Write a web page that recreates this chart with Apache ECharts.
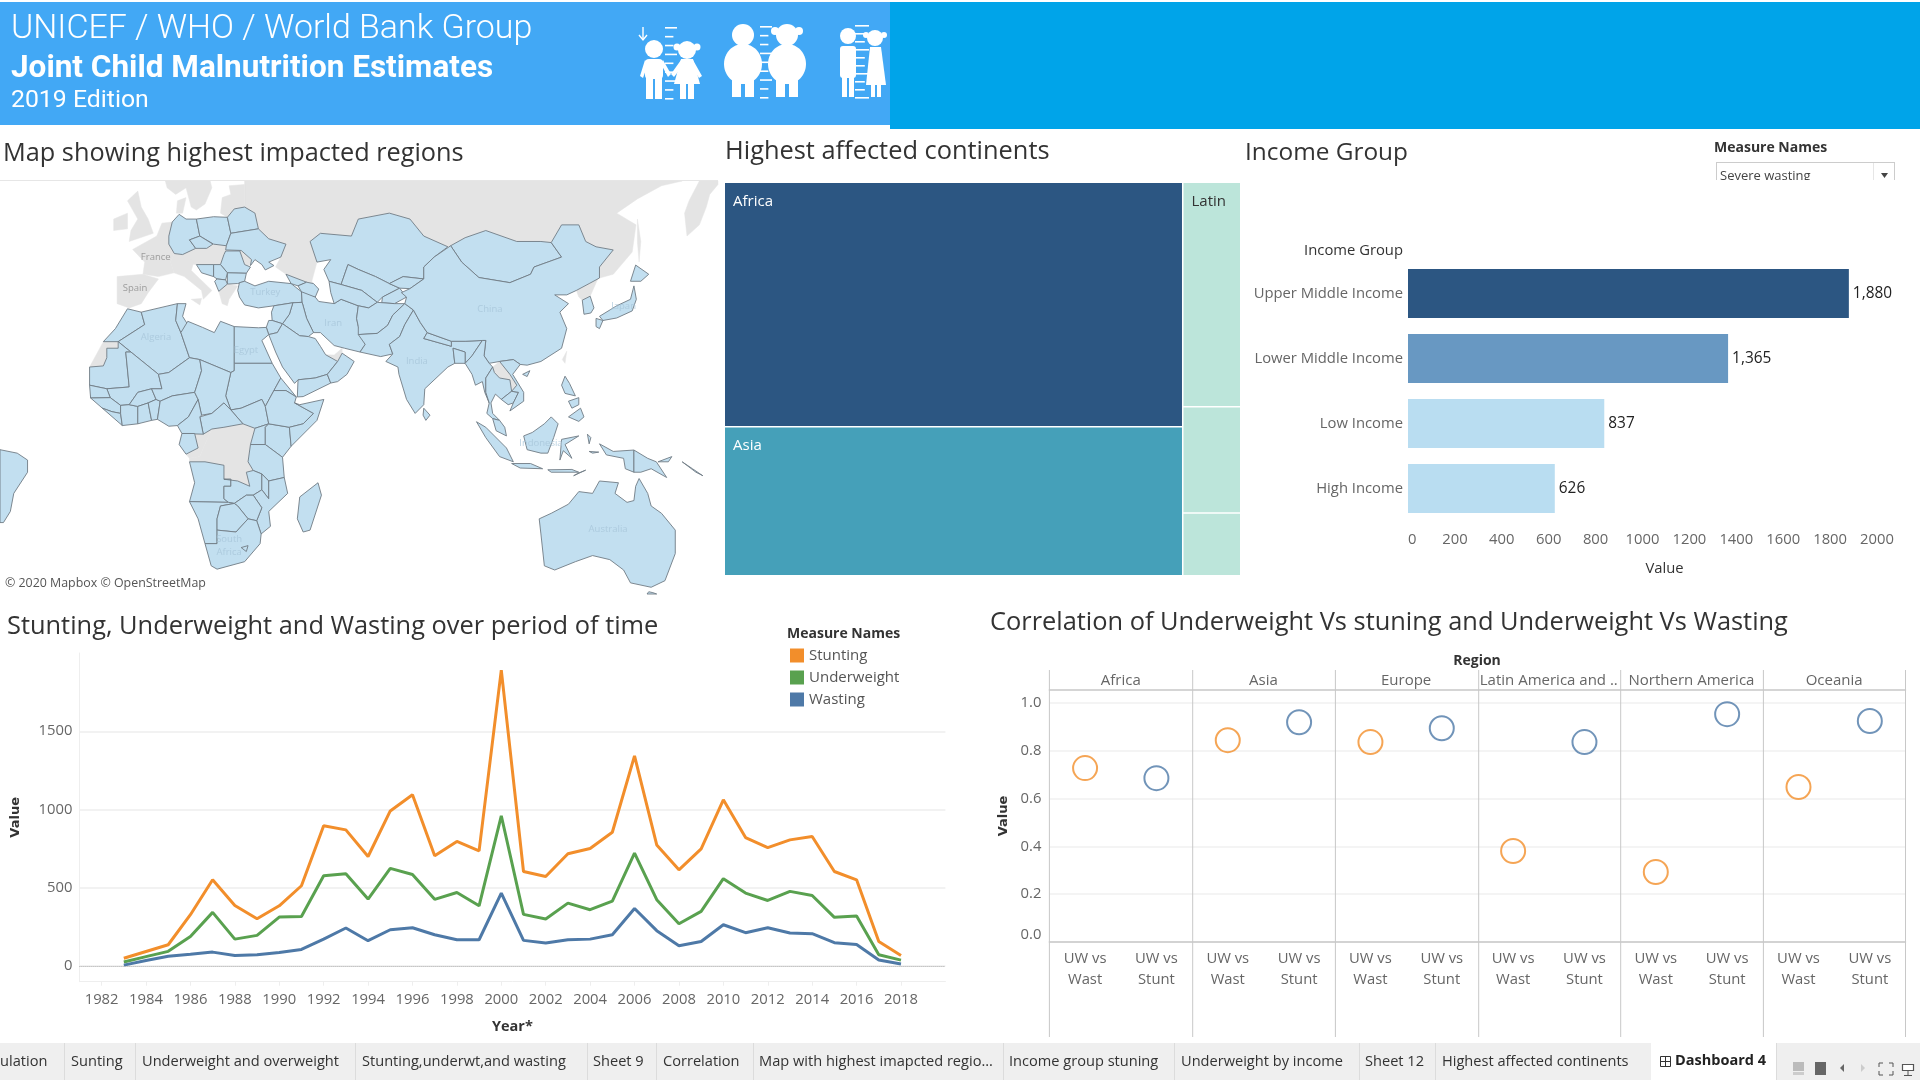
<!DOCTYPE html>
<html><head><meta charset="utf-8">
<script src="https://cdn.jsdelivr.net/npm/echarts@6/dist/echarts.min.js"></script>
<style>html,body{margin:0;padding:0;background:#fff}#c{width:1920px;height:1080px}</style>
</head><body><div id="c"></div>
<script>
// ---------- DATA ----------
const continents = ['Africa','Asia','Latin','Oceania','Europe'];
const continentValues = [111, 67.6, 12.9, 6.1, 3.6];

const incomeGroups = ['Upper Middle Income','Lower Middle Income','Low Income','High Income'];
const incomeValues = [1880,1365,837,626];

const years = [1983,1984,1985,1986,1987,1988,1989,1990,1991,1992,1993,1994,1995,1996,1997,1998,1999,2000,2001,2002,2003,2004,2005,2006,2007,2008,2009,2010,2011,2012,2013,2014,2015,2016,2017,2018];
const stunting = [50,93,136,328,551,387,302,385,513,896,870,700,991,1094,704,796,736,1891,604,572,717,751,855,1343,774,615,749,1062,821,757,806,828,604,551,157,68];
const underweight = [26,60,94,189,343,172,196,313,317,577,590,428,624,585,426,470,385,960,330,300,402,360,415,722,424,270,349,558,466,419,477,451,311,319,72,38];
const wasting = [6,36,62,75,89,68,72,87,106,172,243,162,232,245,200,168,168,466,164,147,168,172,200,368,226,130,157,264,213,245,211,207,149,138,38,13];
const yearTicks = [1982,1984,1986,1988,1990,1992,1994,1996,1998,2000,2002,2004,2006,2008,2010,2012,2014,2016,2018];
const lineValueTicks = [0,500,1000,1500];

const regions = ['Africa','Asia','Europe','Latin America and ..','Northern America','Oceania'];
const pairLabels = ['UW vs\nWast','UW vs\nStunt'];
const uwVsWast  = [0.728,0.845,0.837,0.381,0.293,0.649];
const uwVsStunt = [0.686,0.920,0.895,0.837,0.954,0.925];
const corrTicks = [0,0.2,0.4,0.6,0.8,1.0];

const tabLabels = ['ulation','Sunting','Underweight and overweight','Stunting,underwt,and wasting','Sheet 9','Correlation','Map with highest imapcted regio...','Income group stuning','Underweight by income','Sheet 12','Highest affected continents'];

// Map polygons, as [longitude, latitude] rings
const mapIncluded = {
 Germany:[[6,51],[7,53.5],[9,54.8],[11,54],[14,54],[15,51],[12,50.3],[13.8,48.7],[10,47.5],[7.6,47.7],[6,49.5]],
 Poland:[[14,54],[19,54.4],[23,54.3],[24,51.5],[22.7,49.2],[19,49.5],[15,51]],
 Czechia:[[12,50.3],[15,51],[18.8,49.5],[17,48.7],[13.8,48.7]],
 Belarus:[[23,54.3],[25,55.7],[28,56],[31,55],[32,52.3],[24,51.5]],
 Ukraine:[[24,51.5],[32,52.3],[35,50.5],[40,49.5],[38.5,47],[35,46],[36.5,45.3],[34,44.4],[33,45.5],[31,46.5],[29.7,45.3],[30,46.5],[27,48.3],[22.5,48.4],[22.7,49.2]],
 Romania:[[22,47.5],[22.5,48.2],[26.6,48.2],[28,45.5],[29.7,45],[28.5,43.7],[23,43.8],[21,45.5]],
 Bulgaria:[[23,43.8],[28.5,43.7],[28,42],[26,41.5],[23,41.4]],
 Croatia:[[14,45.5],[19,45.5],[19,43],[15.5,43.8]],
 Serbia:[[19,45.5],[21,45.5],[23,43.8],[22.5,42.3],[20,42.5],[19,43]],
 Albania:[[19.3,42],[20,42.5],[22.5,42.3],[23,41.4],[20.5,39.8]],
 Turkey:[[26,40],[26.5,41.7],[28,42],[31,41],[35,42],[41.5,41.5],[44.5,39.7],[44.7,37.3],[42,37.2],[36.5,36.5],[32,36],[28,36.7],[26.5,38.5]],
 Georgia:[[40,43.5],[46,41.8],[43.5,41],[41.5,41.5]],
 Azerbaijan:[[43.5,41],[46,41.8],[48,41.5],[49.5,40.3],[48.5,38.5],[46,38.8],[44.5,39.7]],
 Iran:[[44.5,39.7],[48.5,38.5],[49.5,37.5],[54,37],[56,38],[61,36.5],[60.5,33.5],[61,31.5],[63,27],[61.5,25],[57,26],[54,26.7],[50,30],[48,30],[46,33.5],[44.7,37.3]],
 Iraq:[[42,37.2],[44.7,37.3],[46,33.5],[48,30],[46.5,29],[44,29.2],[39,32.2],[41,34.5]],
 Syria:[[36.5,36.5],[42,37.2],[41,34.5],[39,32.2],[36,33],[35.8,35]],
 Jordan:[[36,33],[39,32.2],[37.5,30],[35,29.5],[34.3,31.3],[35,33]],
 Saudi:[[35,29.5],[37.5,30],[39,32.2],[44,29.2],[46.5,29],[48.5,28.5],[50,26.5],[51.5,24.3],[55,22.5],[52,19],[48.5,18],[43.5,17.5],[42.5,16.5],[39,21],[37,25]],
 Yemen:[[43.5,17.5],[48.5,18],[52,19],[53,16.6],[45,12.8],[43.3,12.7]],
 Oman:[[55,22.5],[56.3,24.7],[59.8,22.5],[57.7,19],[55,17],[53,16.6],[52,19]],
 Kazakhstan:[[47,50],[50,51.5],[59,51],[61,54],[70,55],[76,54],[80,51],[87,49],[83,47],[80,45],[80,42.5],[74,43],[70,41.5],[66,43],[61,44.5],[58,45.5],[56,41.3],[52.5,42],[51,44.5],[53,46.5],[49,46]],
 Uzbekistan:[[56,41.3],[58,45.5],[61,44.5],[66,43],[70,41.5],[73,40.5],[68,38.5],[66.5,37.3],[62,40]],
 Turkmenistan:[[52.5,42],[56,41.3],[62,40],[66.5,37.3],[64,36],[61,36.5],[56,38],[54,37],[53,39.5]],
 Kyrgyzstan:[[70,41.5],[74,43],[80,42.5],[76,40.4],[73,40.5]],
 Tajikistan:[[68,38.5],[73,40.5],[75,38.5],[71.5,37],[67.8,37.2]],
 Afghanistan:[[61,36.5],[64,36],[66.5,37.3],[71.5,37],[74.5,37],[71,34.3],[69.5,31.8],[66.5,29.8],[61,29.5],[61,31.5],[60.5,33.5]],
 Pakistan:[[61,29.5],[66.5,29.8],[69.5,31.8],[71,34.3],[74.5,37],[77,35.5],[74.5,32],[73,29],[70,27],[71,24.5],[67.5,23.8],[61.5,25],[63,27]],
 India:[[74.5,32],[77,35.5],[79,32.5],[81,30],[80,28.5],[88,26.5],[88,27.8],[92,27.8],[97,28],[94,24],[92,22],[92,25],[88.5,26],[89,22],[87,21],[80.3,15],[80,10.5],[77.5,8],[75,12],[72.8,19],[72.5,21],[69,22.5],[71,24.5],[70,27],[73,29]],
 Nepal:[[81,30],[88,27.8],[88,26.5],[80,28.5]],
 Bangladesh:[[88.5,26],[92,25],[92,22],[89,22]],
 SriLanka:[[80,9.5],[81.8,7.5],[80.6,6],[79.8,7.5]],
 Mongolia:[[87.8,49.2],[92,50.7],[98,52],[107,50],[114,50],[117,49.8],[120,47],[112,45],[111,43.5],[105,41.7],[96,42.8],[91,46]],
 China:[[80,42.5],[80,45],[83,47],[87.8,49.2],[91,46],[96,42.8],[105,41.7],[111,43.5],[112,45],[120,47],[117,49.8],[120,53],[125,53],[127,50],[130,49],[135,48.4],[131,45],[131,42.7],[128,41.5],[124.3,40],[121.5,39],[118,39],[122,37],[119.5,35],[121.5,31],[120,26],[114,22.5],[110,21.5],[108,21.7],[106,23],[102,22.5],[99,22],[97.5,24],[98,28],[97,28],[92,27.8],[88,27.8],[81,30],[79,32.5],[77,35.5],[74.5,37],[75,38.5],[73.5,39.5],[76,40.4]],
 Hainan:[[108.7,19],[110.8,20],[110,18.4]],
 SouthKorea:[[126,37.8],[128.3,38.7],[129.4,36],[128.5,34.8],[126.5,34.5]],
 Honshu:[[131,34],[136,36.5],[140,38],[141,41],[141.7,38],[140.5,35.3],[136,33.6],[132,33]],
 Hokkaido:[[140,42],[141.5,45.4],[145.3,43.5],[143,42]],
 Kyushu:[[130,33.5],[132,33],[131,31],[130,31.5]],
 Myanmar:[[92,22],[94,24],[97,28],[98,28],[97.5,24],[99,22],[100,21],[98,18],[98,14],[99,11],[97.7,14],[97,17],[95,16],[94,19]],
 Thailand:[[100,21],[100.5,19.5],[102,18],[105,17.5],[105.5,14.3],[102.5,12],[100.8,13.5],[99.5,11],[100,8],[102,6],[100,6.5],[98.3,8],[99,11],[98,14],[98,18]],
 Cambodia:[[102.5,12],[105.5,14.3],[107.5,14],[106,11],[104.5,10.5]],
 Vietnam:[[102,22.5],[106,23],[108,21.7],[105.8,19],[109,14],[109,11.5],[105,8.7],[106,11],[107.5,14],[105.5,14.3],[107,16],[105,19]],
 Malaysia:[[100,6.5],[102,6],[103.5,4],[104,1.5],[101,3]],
 Sumatra:[[95.3,5.6],[98,4],[104,-2],[106,-6],[102,-4.5],[98,1]],
 Java:[[105.5,-6.5],[111,-6.5],[114.5,-8],[108,-7.8]],
 Borneo:[[109,1.5],[111.5,2.5],[115,5],[117,7],[119,5],[117.7,1],[116,-3.5],[114,-3.5],[110,-2.5]],
 Sulawesi:[[119.5,-5.5],[120,0.5],[125,1.5],[121,-1],[123,-5],[120.5,-2.8]],
 Papua:[[131,-0.8],[135,-3],[141,-2.6],[141,-9],[138.5,-8],[138,-5],[133,-4]],
 PNG:[[141,-2.6],[145,-5],[147.5,-6],[150.5,-10.5],[146,-8],[143,-9],[141,-9]],
 NewBritain:[[148,-6],[152,-4.5],[151,-6]],
 Luzon:[[120,16],[121,18.5],[122.3,16.5],[124,13],[121,13.7]],
 Mindanao:[[122,7],[125.5,9.5],[126.5,7],[125,5.7]],
 Visayas:[[122,11.5],[125,12.5],[125,10.5],[123,9.5]],
 Halmahera:[[127.5,2],[128.5,1],[128,-0.8]],
 Sunda:[[116,-8.3],[123,-8.2],[125,-9],[117,-9]],
 Timor:[[123.5,-10],[127,-8.4],[125,-9.2]],
 Seram:[[128,-3],[130.8,-3.2],[129,-3.5]],
 Solomon:[[155,-6],[158,-8],[161,-10],[159,-9]],
 Australia:[[113.5,-22],[114,-26],[115,-34],[118,-35],[124,-33],[129,-31.5],[134,-32.5],[138,-35],[140,-38],[146,-39],[150,-37.5],[153,-31],[153,-25],[149,-20.5],[146,-18.5],[145,-15],[142.5,-10.8],[141.5,-13],[141,-17],[139,-17.5],[135.5,-15],[136.5,-12],[131,-11.5],[129,-15],[125,-14.5],[122,-18],[117,-20.5]],
 Tasmania:[[144.8,-40.5],[145.3,-40],[146.5,-40.2],[147.6,-40.5]],
 Brazil:[[-43,-2.5],[-38,-3.5],[-35,-5.5],[-35,-9],[-39,-15],[-40,-20],[-42,-23],[-43,-23]],
 Morocco:[[-13,27.7],[-9.5,31],[-6,35.8],[-2,35],[-1,32],[-8.7,27.7]],
 Algeria:[[-8.7,27.7],[-1,32],[-2,35],[8.5,37],[8,33],[9.5,30],[12,23.5],[6,19.5],[3,19],[-5,25]],
 Tunisia:[[8.5,37],[11,37],[10,34],[11.5,32],[9.5,30],[8,33]],
 Libya:[[9.5,30],[11.5,32.8],[15.8,31.3],[19.2,30],[21,32.8],[25,31.5],[25,20],[24,19.5],[15,23],[12,23.5]],
 Egypt:[[25,31.5],[32,31.2],[34.3,31.3],[35,29.5],[33,28],[36,22],[25,22]],
 Sudan:[[25,22],[36,22],[38.5,18],[36.5,14.5],[34,10],[33,12],[27,9.5],[24,9],[22.5,13],[24,19.5],[25,20]],
 SouthSudan:[[24,9],[27,9.5],[33,12],[34,10],[35,5],[31,3.7],[27.5,5]],
 Mauritania:[[-17,16],[-17,21],[-13,21.3],[-12,23.5],[-12,26],[-8.7,26],[-8.7,27.7],[-5,25],[-6.5,25],[-5.5,15.5],[-12,15]],
 Mali:[[-12,15],[-5.5,15.5],[-6.5,25],[-5,25],[3,19],[4,15],[1,15],[-3,14],[-5.5,10.5],[-8,10.3],[-11,12.5]],
 Senegal:[[-17,16],[-12,15],[-11,12.5],[-16.7,12.4]],
 Guinea:[[-16.7,12.4],[-11,12.5],[-8,10.3],[-8,8],[-10.5,8.5],[-13.3,9.5]],
 Liberia:[[-13.3,9.5],[-10.5,8.5],[-8,8],[-7.5,4.5]],
 IvoryCoast:[[-8,10.3],[-5.5,10.5],[-3,10],[-3,5],[-7.5,4.5],[-8,8]],
 Burkina:[[-5.5,10.5],[-3,14],[1,15],[2.3,12],[0,11],[-3,10]],
 Ghana:[[-3,10],[0,11],[1,6],[-3,5]],
 Benin:[[0,11],[2.3,12],[3.5,11.5],[2.7,6.3],[1,6]],
 Niger:[[2.3,12],[1,15],[4,15],[3,19],[6,19.5],[12,23.5],[15,23],[15.5,20],[13.5,14],[7,13],[3.5,11.5]],
 Nigeria:[[2.7,6.3],[3.5,11.5],[7,13],[13.5,14],[14.5,12],[11.7,7],[8.5,4.5],[6,4.3]],
 Chad:[[15,23],[24,19.5],[22.5,13],[24,9],[22,11],[18.5,8],[15.5,7.5],[14.5,12],[13.5,14],[15.5,20]],
 CAR:[[15,7],[18.5,8],[22,11],[24,9],[27.5,5],[22,4],[18.5,3.5],[16,2]],
 Cameroon:[[8.5,4.5],[11.7,7],[14.5,12],[15.5,7.5],[15,7],[16,2],[9.8,2.2]],
 Gabon:[[9.8,2.2],[13.5,2.2],[14.5,-2],[11,-3.8],[9,-1]],
 Uganda:[[31,3.7],[35,5],[34,4],[34,-1],[29.7,-1]],
 Kenya:[[35,5],[41,4],[41.5,-1.5],[39,-4.7],[34,-1],[34,4]],
 Eritrea:[[36.5,14.5],[38.5,18],[43,12.7],[40,14.5]],
 Ethiopia:[[34,10],[36.5,14.5],[40,14.5],[43,12.7],[42.5,11],[48,8],[45,5],[41,4],[35,5]],
 Somalia:[[42.5,11],[44,10.5],[51,12],[49,6],[41.5,-1.5],[41,4],[45,5],[48,8]],
 Tanzania:[[29.7,-1],[34,-1],[39,-4.7],[39.5,-10.5],[35,-11.5],[33,-9.5],[30.5,-8.5],[29,-6]],
 Angola:[[12,-6],[16.5,-6],[22,-7],[22,-11],[24,-11],[24,-13],[22,-13],[22,-16.5],[23.3,-17.5],[12,-17.3],[13.5,-12]],
 Zambia:[[22,-11],[26,-11.5],[29.5,-13],[28.5,-9],[30.5,-8.5],[33,-9.5],[33,-14],[30.5,-15.5],[28.5,-15.5],[25,-17.8],[23.3,-17.5],[22,-16.5],[22,-13],[24,-13],[24,-11]],
 Malawi:[[33,-9.5],[35,-11.5],[35,-16.5],[33,-14]],
 Mozambique:[[35,-11.5],[39.5,-10.5],[40.5,-15],[35,-20],[35.5,-24],[32.8,-26],[31.5,-22.5],[33,-19],[30.5,-15.5],[33,-14],[35,-16.5]],
 Zimbabwe:[[25,-17.8],[28.5,-15.5],[30.5,-15.5],[33,-19],[31.5,-22.5],[29,-22],[26,-18.5]],
 Namibia:[[12,-17.3],[23.3,-17.5],[25,-17.8],[21,-18.5],[20,-22],[20,-28.5],[16.5,-28.5],[14.5,-22]],
 Botswana:[[21,-18.5],[25,-17.8],[26,-18.5],[29,-22],[25.5,-25.5],[20,-25],[20,-22]],
 SouthAfrica:[[16.5,-28.5],[20,-28.5],[20,-25],[25.5,-25.5],[29,-22],[31.5,-22.5],[32.8,-26],[32.5,-28.5],[28,-33],[20,-34.8],[18.3,-34]],
 Lesotho:[[27,-29.5],[29,-29],[28.5,-30.5]],
 Madagascar:[[44,-16],[49.3,-12],[50.3,-15.5],[47,-25],[45,-25.5],[43.3,-22]]
};
const mapExcluded = {
 Russia:[[28,60],[155,60],[149,59.3],[142,57.3],[136,55],[141.6,53],[140.5,48],[135,43.5],[131,42.7],[131,45],[135,48.4],[130,49],[127,50],[125,53],[120,53],[117,49.8],[114,50],[107,50],[98,52],[92,50.7],[87.8,49.2],[87,49],[80,51],[76,54],[70,55],[61,54],[59,51],[50,51.5],[47,50],[49,46],[47.5,42],[48,41.5],[46,41.8],[40,43.5],[37,45],[38.5,47],[40,49.5],[35,50.5],[32,52.3],[31,55],[28,56]],
 Kamchatka:[[156.4,51],[155.7,55],[157,57],[160,60],[165.4,60],[165.4,59.5],[163,58],[162,56],[160,53]],
 Sakhalin:[[142,54],[143,50],[142.5,46],[142,50]],
 France:[[-4.5,48.5],[2.5,51],[8,49],[7.6,47.7],[6.5,46],[7.5,43.8],[3,43],[-1.5,43.5],[-1,46]],
 Spain:[[-9,43],[-1.5,43.5],[3,42.5],[0,39.5],[-2,37],[-5.5,36],[-9,37]],
 Britain:[[-5.5,50],[1.5,51.5],[0,54],[-2,56],[-3,58.5],[-6,57],[-3,54],[-5,52]],
 Ireland:[[-10,52],[-6,52.3],[-6,55],[-10,54]],
 Benelux:[[2.5,51],[4,53.3],[7,53.5],[6,51],[6,49.5],[4,49.8]],
 Denmark:[[8.2,55],[8.5,57],[11,57.5],[10,55]],
 Scandinavia:[[5,60],[18,60],[18.5,59],[16.5,56.5],[14,55.5],[12.5,56],[11,59],[8,58],[5.5,59]],
 Baltics:[[21,55],[21.5,57.5],[24,58],[23.5,59.3],[28,59.5],[28,56],[25,55.7],[23,54.3]],
 Alps:[[6.5,46],[7.6,47.7],[10,47.5],[13.8,48.7],[17,48.7],[18.8,49.5],[22.7,49.2],[22.5,48.2],[22,47.5],[21,45.5],[19,45.5],[14,45.5]],
 Moldova:[[26.6,48.2],[27,48.3],[30,46.5],[29.7,45.3],[28,45.5]],
 Italy:[[7.5,43.8],[6.5,46],[13.5,46.5],[12.5,44.3],[18.5,40],[16,38],[15.5,40],[10.5,43]],
 Sicily:[[12.5,38],[15.5,38.2],[15,36.7]],
 Greece:[[20.5,39.8],[23,41.4],[26,41],[23.5,38],[23,36.5],[21.5,37]],
 NorthKorea:[[124.3,40],[128,41.5],[130.5,42.5],[128.3,38.7],[126,37.8],[125,38.5]],
 Taiwan:[[120.2,23],[121.5,25.2],[121,22]],
 Laos:[[100,21],[102,22.5],[105,19],[107,16],[105.5,14.3],[105,17.5],[102,18],[100.5,19.5]],
 UAE:[[51.5,24.3],[54,24.2],[56.3,26],[56.3,24.7],[55,22.5]],
 WesternSahara:[[-17,21],[-13,27.7],[-8.7,27.7],[-8.7,26],[-12,26],[-12,23.5],[-13,21.3]],
 Congo:[[13.5,2.2],[16,2],[18.5,3.5],[16,-2],[15,-4.5],[12,-5],[11,-3.8],[14.5,-2]],
 DRCongo:[[18.5,3.5],[22,4],[27.5,5],[31,3.7],[29.7,-1],[29,-6],[30.5,-8.5],[28.5,-9],[29.5,-13],[26,-11.5],[22,-11],[22,-7],[16.5,-6],[12,-6],[12,-5],[15,-4.5],[16,-2]]
};
const mapFrame = [[-43,60],[165.4,60],[165.4,-40.5],[-43,-40.5]];
const mapLabels = [['France',2.2,46.9],['Spain',-3.8,40.5],['Turkey',34,39.6],['Iran',53.7,32.3],['China',99.2,35.6],['India',78,22.6],['Japan',138,36.4],['Algeria',2.3,28.8],['Egypt',28.4,25.5],['Indonesia',114,-0.6],['Australia',133.5,-24.7],['South',23.5,-27.5],['Africa',23.5,-30.8]];

// ---------- FONTS / COLOURS ----------
const F = '"Open Sans", sans-serif';
const ORANGE='#F28E2B', GREEN='#59A14F', BLUE='#4E79A7';
const AX='#666', GRID='#eeeeee';
const treeColors=['#2C5682','#45A0B9','#BCE5DA','#BCE5DA','#BCE5DA'];
const barColors=['#2C5682','#6898C2','#B9DDF1','#B9DDF1'];

// ---------- MAP ----------
const ring=r=>[[...r,r[0]]];
const feature=(name,r)=>({type:'Feature',properties:{name},geometry:{type:'Polygon',coordinates:ring(r)}});
const features=[feature('frame',mapFrame)];
Object.keys(mapExcluded).forEach(k=>features.push(feature(k,mapExcluded[k])));
Object.keys(mapIncluded).forEach(k=>features.push(feature(k,mapIncluded[k])));
echarts.registerMap('dash',{type:'FeatureCollection',features});
const D=Math.PI/180;
const geoRegions=[{name:'frame',itemStyle:{areaColor:'rgba(0,0,0,0)',borderWidth:0,opacity:0}}].concat(
  Object.keys(mapExcluded).map(name=>({name,itemStyle:{areaColor:'#E4E4E4',borderColor:'#E4E4E4',borderWidth:0.5}})));

// ---------- DECORATION ----------
const g=[];
const T=(text,x,y,size,o={})=>g.push({type:'text',x,y,silent:true,z:o.z||50,style:{text,fontSize:size,fontFamily:o.f||F,fontWeight:o.w||'normal',fill:o.c||'#333',textAlign:o.a||'left',textVerticalAlign:'middle'}});
const R=(x,y,w,h,c,z=1,o={})=>g.push({type:'rect',silent:true,z,shape:{x,y,width:w,height:h,r:o.r||0},style:{fill:c,stroke:o.s||null,lineWidth:o.lw||0}});
const C=(cx,cy,r,c='#fff',z=5)=>g.push({type:'circle',silent:true,z,shape:{cx,cy,r},style:{fill:c}});
const E=(cx,cy,rx,ry,c='#fff',z=5)=>g.push({type:'ellipse',silent:true,z,shape:{cx,cy,rx,ry},style:{fill:c}});
const P=(pts,c='#fff',z=5)=>g.push({type:'polygon',silent:true,z,shape:{points:pts},style:{fill:c}});
const L=(x1,y1,x2,y2,c,z=3,lw=1)=>g.push({type:'line',silent:true,z,shape:{x1,y1,x2,y2},style:{stroke:c,lineWidth:lw}});

R(0,2,890,123,'#42A8F5');
R(890,2,1030,127,'#00A4E9',8);
T('UNICEF / WHO / World Bank Group',11,30,33.9,{f:'Roboto, sans-serif',w:300,c:'#fff'});
T('Joint Child Malnutrition Estimates',11,69,31.5,{f:'Roboto, sans-serif',w:700,c:'#fff'});
T('2019 Edition',11,101,24.8,{f:'Roboto, sans-serif',c:'#fff'});

function ladder(x,w,y0,y1,n){for(let i=0;i<n;i++){const y=y0+(y1-y0)*i/(n-1);R(x,y,i%3==0?w:w*0.7,1.6,'#fff',4);}}
// short children
ladder(665,12,27,98,9);
g.push({type:'polyline',silent:true,z:5,shape:{points:[[643,27],[643,40]]},style:{stroke:'#fff',lineWidth:1.4,fill:null}});
g.push({type:'polyline',silent:true,z:5,shape:{points:[[639,35],[643,40],[647,35]]},style:{stroke:'#fff',lineWidth:1.4,fill:null}});
C(654,49,9);R(645,59,18,20,'#fff',5,{r:4});R(646,78,7,21,'#fff',5);R(655,78,7,21,'#fff',5);
P([[645,60],[640,76],[643,78],[648,64]]);P([[663,60],[671,74],[668,77],[661,64]]);
C(687,50,9);C(677,47,3.5);C(697,47,3.5);P([[681,59],[693,59],[700,84],[674,84]]);R(680,83,6,16,'#fff',5);R(688,83,6,16,'#fff',5);
P([[681,60],[671,74],[674,77],[684,64]]);P([[693,60],[702,76],[699,78],[690,64]]);
// overweight children
ladder(760,12,26,97,9);
C(743,35,11);E(743,64,19,20);R(732,78,9,19,'#fff',5);R(745,78,9,19,'#fff',5);
C(787,35,11);C(775,31,4);C(799,31,4);E(787,64,19,20);R(776,78,9,19,'#fff',5);R(789,78,9,19,'#fff',5);
// tall children
ladder(855,14,25,97,10);
C(848,36,8);R(840,46,16,32,'#fff',5,{r:3});R(842,75,5,22,'#fff',5);R(849,75,5,22,'#fff',5);
C(875,38,8);C(866,35,3);C(884,35,3);P([[870,47],[881,47],[886,85],[866,85]]);R(871,84,4,13,'#fff',5);R(877,84,4,13,'#fff',5);

T('Map showing highest impacted regions',3,153.5,25.3);
T('Highest affected continents',725,151.5,25.4);
T('Income Group',1245,153,24.4);
T('Stunting, Underweight and Wasting over period of time',7,627,25.4);
T('Correlation of Underweight Vs stuning and Underweight Vs Wasting',990,623,25.4);
L(0,180.5,718,180.5,'#e6e6e6');
T('\u00A9 2020 Mapbox \u00A9 OpenStreetMap',5,583,12.4,{c:'#555',z:60});

// dropdown filter
T('Measure Names',1714,148,14,{w:700,c:'#333'});
T('Severe wasting',1720,176,13,{c:'#444',z:50});
R(1700,180,220,8,'#fff',55);
L(1716.5,163,1716.5,180,'#ccc',60);L(1716,162.5,1895,162.5,'#ccc',60);L(1894.5,163,1894.5,180,'#ccc',60);
L(1873.5,163,1873.5,180,'#e6e6e6',60);
P([[1881,173],[1888,173],[1884.5,178]],'#444',60);
T('Income Group',1403,251,14.8,{a:'right',c:'#333'});

// legend header
T('Measure Names',787,634,14,{w:700,c:'#333'});

// correlation facet frame
const facet=[1049.4,1192.7,1335.4,1478.7,1620.7,1763.4,1905.5];
facet.forEach(x=>L(x,670,x,1037,'#c8c8c8'));
T('Region',1477,661,14,{a:'center',w:700,c:'#333'});

// tab bar
R(0,1043,1920,37,'#EFEFEF',1);
const tabEdges=[64,135,355,587,656,753,1003,1174,1359,1435,1651,1776];
tabEdges.forEach(x=>L(x+.5,1043,x+.5,1080,'#dcdcdc',2));
R(1651,1043,125,37,'#fff',2);
const tabText=[0,71,142,362,593,663,759,1009,1181,1365,1442];
tabLabels.forEach((t,i)=>T(t,tabText[i],1062,14.6,{c:'#333'}));
T('Dashboard 4',1675,1061,14.5,{w:700,c:'#222'});
R(1660.5,1056.5,10,10,'#fff',5,{s:'#333',lw:1});L(1660,1061.5,1671,1061.5,'#333',6);L(1665.5,1056,1665.5,1067,'#333',6);
R(1793,1062,11,9,'#bbb',5);R(1793,1072,11,3,'#ccc',5);R(1815,1062,11,13,'#666',5);
P([[1844,1064],[1844,1072],[1840,1068]],'#666');P([[1861,1064],[1861,1072],[1865,1068]],'#ccc');
[[1879,1063,1883,1063],[1879,1063,1879,1067],[1889,1063,1893,1063],[1893,1063,1893,1067],[1879,1075,1883,1075],[1879,1071,1879,1075],[1889,1075,1893,1075],[1893,1071,1893,1075]].forEach(a=>L(a[0],a[1],a[2],a[3],'#555',6));
R(1902.5,1064.5,11,6,'#fff',5,{s:'#555',lw:1.2});L(1908,1071,1908,1075,'#555',6);L(1904,1075.5,1912,1075.5,'#555',6);

// ---------- OPTION ----------
const tick={color:AX,fontFamily:F,fontSize:14.8};
const plain=v=>String(v);
const option={
 animation:false,backgroundColor:'#fff',
 graphic:{elements:g},
 geo:{map:'dash',silent:true,roam:false,left:0,top:181,width:718,height:413,aspectScale:1,
  projection:{project:p=>[p[0]*D,-Math.log(Math.tan(Math.PI/4+p[1]*D/2))],unproject:p=>[p[0]/D,(2*Math.atan(Math.exp(-p[1]))-Math.PI/2)/D]},
  itemStyle:{areaColor:'#C2DFF0',borderColor:'#707C85',borderWidth:0.9},
  emphasis:{disabled:true},label:{show:false},regions:geoRegions},
 legend:{data:['Stunting','Underweight','Wasting'],orient:'vertical',left:785,top:643,itemWidth:14,itemHeight:14,itemGap:7,icon:'rect',selectedMode:false,textStyle:{color:'#555',fontFamily:F,fontSize:15}},
 grid:[
  {left:1408,top:261,width:469,height:260},
  {left:79.4,top:653,width:866,height:328.7},
  {left:1049.4,top:690,width:856.1,height:252}
 ],
 xAxis:[
  {gridIndex:0,type:'value',min:0,max:2000,interval:200,splitLine:{show:false},axisLine:{show:false},axisTick:{show:false},
   axisLabel:Object.assign({margin:11,alignMinLabel:'left',formatter:plain},tick),name:'Value',nameLocation:'middle',nameGap:40,nameTextStyle:{color:'#333',fontFamily:F,fontSize:14.8,padding:[0,0,0,44]}},
  {gridIndex:1,type:'value',min:1981,max:2020,splitLine:{show:false},
   axisLine:{onZero:false,lineStyle:{color:GRID}},axisTick:{customValues:yearTicks,length:4,lineStyle:{color:GRID}},
   axisLabel:Object.assign({customValues:yearTicks,margin:11,formatter:plain},tick),
   name:'Year*',nameLocation:'middle',nameGap:38,nameTextStyle:{color:'#333',fontFamily:F,fontSize:14.5,fontWeight:'bold'}},
  {gridIndex:2,type:'category',data:regions.flatMap(()=>pairLabels).map((l,i)=>({value:i+'|'+l})),position:'bottom',
   axisLine:{lineStyle:{color:'#c8c8c8',width:1.5}},axisTick:{show:false},
   axisLabel:Object.assign({interval:0,margin:6,lineHeight:21,formatter:v=>v.split('|')[1]},tick)},
  {gridIndex:2,type:'category',data:regions,position:'top',
   axisLine:{lineStyle:{color:'#c8c8c8',width:1.5}},axisTick:{show:false},
   axisLabel:Object.assign({interval:0,margin:2},tick,{fontSize:15})}
 ],
 yAxis:[
  {gridIndex:0,type:'category',inverse:true,data:incomeGroups,axisLine:{show:false},axisTick:{show:false},axisLabel:Object.assign({margin:5},tick)},
  {gridIndex:1,type:'value',min:-100,max:2000,axisLine:{show:true,lineStyle:{color:GRID}},
   axisTick:{customValues:lineValueTicks,show:false},splitLine:{lineStyle:{color:GRID,width:1.5}},
   axisLabel:Object.assign({customValues:lineValueTicks,margin:7,formatter:plain},tick),
   name:'Value',nameLocation:'middle',nameGap:57,nameRotate:90,nameTextStyle:{color:'#333',fontFamily:'"DejaVu Sans",sans-serif',fontSize:13,fontWeight:'bold'}},
  {gridIndex:2,type:'value',min:0,max:1.055,axisLine:{show:false},
   axisTick:{customValues:corrTicks,show:false},splitLine:{lineStyle:{color:'#f0f0f0',width:1.5}},
   axisLabel:Object.assign({customValues:corrTicks,margin:8,verticalAlignMinLabel:'bottom',formatter:v=>v.toFixed(1)},tick),
   name:'Value',nameLocation:'middle',nameGap:39,nameRotate:90,nameTextStyle:{color:'#333',fontFamily:'"DejaVu Sans",sans-serif',fontSize:13,fontWeight:'bold'}}
 ],
 series:[
  {type:'scatter',coordinateSystem:'geo',geoIndex:0,silent:true,symbolSize:0,z:5,
   data:mapLabels.map(m=>({name:m[0],value:[m[1],m[2]],label:(m[0]=='France'||m[0]=='Spain')?{color:'#8a8a8a'}:undefined})),
   label:{show:true,position:'inside',formatter:'{b}',fontSize:9.5,fontFamily:F,color:'#A7C6DA'}},
  {type:'treemap',left:725,top:183,width:515,height:392,roam:false,nodeClick:false,silent:true,squareRatio:3,
   breadcrumb:{show:false},itemStyle:{borderWidth:0,gapWidth:1.5,borderColor:'#fff'},
   label:{show:true,position:[3,6],color:'#fff',fontFamily:F,fontSize:15},upperLabel:{show:false},
   data:continents.map((n,i)=>({name:n,value:continentValues[i],itemStyle:{color:treeColors[i]},
     label:i==2?{show:true,color:'#333'}:(i>2?{show:false}:undefined)}))},
  {type:'bar',xAxisIndex:0,yAxisIndex:0,barWidth:49,silent:true,
   data:incomeValues.map((v,i)=>({value:v,itemStyle:{color:barColors[i]}})),
   label:{show:true,position:'right',distance:4,color:'#222',fontFamily:F,fontSize:15.4,formatter:p=>p.value.toLocaleString('en-US')}},
  {type:'line',name:'Stunting',xAxisIndex:1,yAxisIndex:1,symbol:'none',silent:true,color:ORANGE,lineStyle:{width:3,color:ORANGE},
   data:years.map((y,i)=>[y,stunting[i]]),
   markLine:{silent:true,symbol:'none',label:{show:false},lineStyle:{color:'#aaa',type:'dotted',width:1},data:[{yAxis:0}]}},
  {type:'line',name:'Underweight',xAxisIndex:1,yAxisIndex:1,symbol:'none',silent:true,color:GREEN,lineStyle:{width:3,color:GREEN},data:years.map((y,i)=>[y,underweight[i]])},
  {type:'line',name:'Wasting',xAxisIndex:1,yAxisIndex:1,symbol:'none',silent:true,color:BLUE,lineStyle:{width:3,color:BLUE},data:years.map((y,i)=>[y,wasting[i]])},
  {type:'scatter',name:'UW vs Wast',xAxisIndex:2,yAxisIndex:2,symbol:'circle',symbolSize:24,silent:true,
   itemStyle:{color:'rgba(255,255,255,0)',borderColor:ORANGE,borderWidth:2},data:uwVsWast.map((v,i)=>[i*2,v])},
  {type:'scatter',name:'UW vs Stunt',xAxisIndex:2,yAxisIndex:2,symbol:'circle',symbolSize:24,silent:true,
   itemStyle:{color:'rgba(255,255,255,0)',borderColor:BLUE,borderWidth:2},data:uwVsStunt.map((v,i)=>[i*2+1,v])}
 ]
};
echarts.init(document.getElementById('c')).setOption(option);
</script></body></html>
